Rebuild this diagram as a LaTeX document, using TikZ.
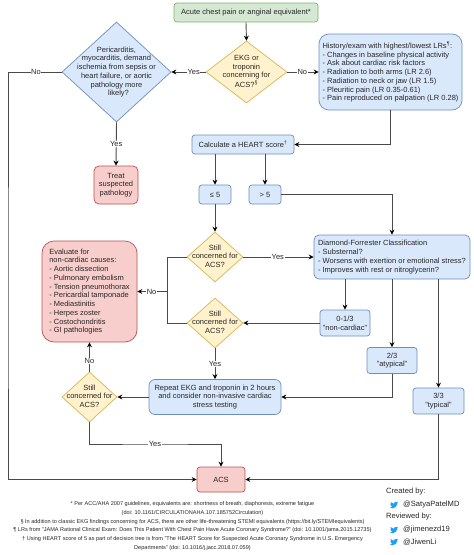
\documentclass[tikz,border=0pt]{standalone}
\usepackage{fontspec}
\setmainfont{Liberation Sans}
\usetikzlibrary{shapes.geometric,arrows.meta,calc}
\definecolor{gfill}{HTML}{D5E8D4}\definecolor{gline}{HTML}{82B366}
\definecolor{bfill}{HTML}{DAE8FC}\definecolor{bline}{HTML}{6C8EBF}
\definecolor{rfill}{HTML}{F8CECC}\definecolor{rline}{HTML}{B85450}
\definecolor{yfill}{HTML}{FFF2CC}\definecolor{yline}{HTML}{D6B656}
\definecolor{edgec}{HTML}{4A4A4A}\definecolor{tweet}{HTML}{1DA1F2}
\newcommand\dtxt[1]{\smash{\makebox[0pt]{\raisebox{-0.25em}{\begin{tabular}{@{}c@{}}#1\end{tabular}}}}}
\renewcommand\arraystretch{1}
\tikzset{
  body/.style={font=\fontsize{7.5}{8.75}\selectfont,text=black!85},
  flowbox/.style={body,draw,line width=0.7pt,inner sep=0pt,align=center,rounded corners=3pt},
  bluebox/.style={flowbox,fill=bfill,draw=bline},
  redbox/.style={flowbox,fill=rfill,draw=rline},
  greenbox/.style={flowbox,fill=gfill,draw=gline},
  dec/.style={body,diamond,aspect=1,inner sep=0pt,draw=yline,fill=yfill,line width=0.7pt},
  conn/.style={draw=edgec,line width=0.9pt},
  arr/.style={conn,-{Stealth[length=5pt,width=5pt,black]}},
  lbl/.style={body,fill=white,inner sep=0.6pt},
  foot/.style={font=\fontsize{5.55}{8.85}\selectfont,text=black!85,align=center,inner sep=0pt},
  cred/.style={font=\fontsize{7.6}{9}\selectfont,text=black!85,anchor=west,inner sep=0pt},
  bird/.pic={\fill[tweet,scale=0.34,shift={(-12,-12)}] (24,4.6) .. controls (23.1,5) and (22.1,5.2) .. (21.1,5.3)
     .. controls (22.2,4.7) and (22.9,3.7) .. (23.3,2.6)
     .. controls (22.3,3.2) and (21.3,3.6) .. (20.2,3.8)
     .. controls (17.2,0.6) and (10.8,3.6) .. (11.8,8.3)
     .. controls (7.7,8.1) and (4.1,6.1) .. (1.6,3.2)
     .. controls (0.4,5.4) and (1.1,8.2) .. (3.2,9.7)
     .. controls (2.4,9.7) and (1.6,9.5) .. (0.9,9.1)
     .. controls (0.9,11.5) and (2.6,13.5) .. (4.9,14)
     .. controls (4.2,14.2) and (3.4,14.2) .. (2.7,14.1)
     .. controls (3.3,16) and (5.2,17.5) .. (7.3,17.5)
     .. controls (5.2,19.1) and (2.6,19.8) .. (0,19.5)
     .. controls (2.2,21) and (4.9,21.75) .. (7.55,21.75)
     .. controls (16.6,21.75) and (21.5,14.3) .. (21.5,7.8)
     .. controls (21.5,7.6) and (21.5,7.3) .. (21.5,7.1)
     .. controls (22.5,6.4) and (23.3,5.6) .. (24,4.6) -- cycle;}
}
\begin{document}
\begin{tikzpicture}[x=1pt,y=-1pt]
\useasboundingbox[fill=white] (0,0) rectangle (474,555);
% nodes
\node[greenbox,minimum width=144pt,minimum height=19pt] (start) at (246,12.5) {Acute chest pain or anginal equivalent*};
\node[dec,minimum width=81pt,minimum height=62pt,aspect=1.306] (ekg) at (246.5,72) {\dtxt{EKG or\\troponin\\concerning for\\ACS?\textsuperscript{§}}};
\node[dec,minimum width=109pt,minimum height=100pt,aspect=1.09,fill=bfill,draw=bline] (pd) at (116.5,72) {\dtxt{Pericarditis,\\myocarditis, demand\\ischemia from sepsis or\\heart failure, or aortic\\pathology more\\\hspace*{4pt}likely?}};
\node[redbox,minimum width=44pt,minimum height=38pt,rounded corners=5pt] (treat) at (116,185) {Treat\\suspected\\pathology};
\node[bluebox,minimum width=143pt,minimum height=76pt,rounded corners=10pt,align=left] (hist) at (390.5,72) {History/exam with highest/lowest LRs\textsuperscript{¶}:\\- Changes in baseline physical activity\\- Ask about cardiac risk factors\\- Radiation to both arms (LR 2.6)\\- Radiation to neck or jaw (LR 1.5)\\- Pleuritic pain (LR 0.35-0.61)\\- Pain reproduced on palpation (LR 0.28)};
\node[bluebox,minimum width=102pt,minimum height=19pt] (calc) at (243,144.5) {Calculate a HEART score\textsuperscript{†}};
\node[bluebox,minimum width=32pt,minimum height=19pt] (le) at (215,194.5) {≤ 5};
\node[bluebox,minimum width=32pt,minimum height=19pt] (gt) at (265,194.5) {> 5};
\node[dec,minimum width=56pt,minimum height=50pt,aspect=1.12] (s1) at (215,257) {\dtxt{Still\\concerned for\\ACS?}};
\node[dec,minimum width=56pt,minimum height=50pt,aspect=1.12] (s2) at (215,323) {\dtxt{Still\\concerned for\\ACS?}};
\node[dec,minimum width=55pt,minimum height=50pt,aspect=1.1] (s3) at (89.5,397) {\dtxt{Still\\concerned for\\ACS?}};
\node[redbox,minimum width=95pt,minimum height=101pt,rounded corners=12pt,align=left] (eval) at (89.5,291.5) {Evaluate for\\non-cardiac causes:\\- Aortic dissection\\- Pulmonary embolism\\- Tension pneumothorax\\- Pericardial tamponade\\- Mediastinitis\\- Herpes zoster\\- Costochondritis\\- GI pathologies};
\node[bluebox,minimum width=156pt,minimum height=44pt,rounded corners=5pt,align=left] (df) at (392,257) {Diamond-Forrester Classification\\- Substernal?\\- Worsens with exertion or emotional stress?\\- Improves with rest or nitroglycerin?};
\node[bluebox,minimum width=50pt,minimum height=26pt] (t01) at (345,323) {0-1/3\\"non-cardiac"};
\node[bluebox,minimum width=50pt,minimum height=26pt] (t23) at (392,360.5) {2/3\\"atypical"};
\node[bluebox,minimum width=51pt,minimum height=26pt] (t33) at (438.5,401) {3/3\\"typical"};
\node[bluebox,minimum width=132pt,minimum height=35pt,rounded corners=6pt] (rep) at (215,397) {Repeat EKG and troponin in 2 hours\\and consider non-invasive cardiac\\stress testing};
\node[redbox,minimum width=48pt,minimum height=25pt] (acs) at (221,479.5) {ACS};
% helper points
\coordinate (rail) at (8,300);
\coordinate (jn) at (167,291.5);
\coordinate (yk) at (155,444);
% connectors
\draw[arr] (start.south) -- (ekg.north);
\draw[arr] (ekg.west) -- node[lbl,pos=0.35]{Yes} (pd.east);
\draw[arr] (ekg.east) -- node[lbl,pos=0.48]{No} (hist.west);
\draw[arr] (pd.south) -- node[lbl,pos=0.5]{Yes} (treat.north);
\draw[arr] (pd.west) -| (rail) |- (acs.west);
\node[lbl] (nolbl) at (36,72) {No};
\draw[arr] (hist.south) |- (calc.east);
\draw[arr] (calc.south -| le.north) -- (le.north);
\draw[arr] (calc.south -| gt.north) -- (gt.north);
\draw[arr] (le.south) -- (s1.north);
\draw[arr] (gt.east) -| (df.north);
\draw[arr] (s1.east) -- node[lbl,pos=0.49]{Yes} (df.west);
\draw[conn] (s1.west) -| (jn);
\draw[conn] (s2.west) -| (jn);
\draw[arr] (jn) -- node[lbl,pos=0.52]{No} (eval.east);
\draw[arr] (s2.south) -- node[lbl,pos=0.5]{Yes} (rep.north -| s2.south);
\draw[arr] (df.south -| t01.north) -- (t01.north);
\draw[arr] (df.south) -- (t23.north);
\draw[arr] (df.south -| t33.north) -- (t33.north);
\draw[arr] (t01.west) -- (s2.east);
\draw[arr] (t23.south) |- (rep.east);
\draw[arr] (t33.south) |- (acs.east);
\draw[arr] (rep.west) -- (s3.east);
\draw[arr] (s3.north) -- node[lbl,pos=0.37]{No} (eval.south -| s3.north);
\draw[arr] (s3.south) |- (yk) -| (acs.north);
\node[lbl] (yeslbl) at (yk) {Yes};
% footnotes
\node[foot] (notes) at (192.5,526) {* Per ACC/AHA 2007 guidelines, equivalents are: shortness of breath, diaphoresis, extreme fatigue\\(doi: 10.1161/CIRCULATIONAHA.107.185752Circulation)\\§ In addition to classic EKG findings concerning for ACS, there are other life-threatening STEMI equivalents (https://bit.ly/STEMIequivalents)\\¶ LRs from "JAMA Rational Clinical Exam: Does This Patient With Chest Pain Have Acute Coronary Syndrome?" (doi: 10.1001/jama.2015.12735)\\† Using HEART score of 5 as part of decision tree is from "The HEART Score for Suspected Acute Coronary Syndrome in U.S. Emergency\\Departments" (doi: 10.1016/j.jacc.2018.07.059)};
% credits
\node[cred] (created) at (386,492) {Created by:};
\node[cred] (c1) at (403,505) {@SatyaPatelMD};
\node[cred] (revd) at (386,517) {Reviewed by:};
\node[cred] (r1) at (403,530) {@jimenezd19};
\node[cred] (r2) at (403,542) {@JiwenLi};
\pic at (394,505) {bird};
\pic at (394,530) {bird};
\pic at (394,542) {bird};
\end{tikzpicture}
\end{document}
